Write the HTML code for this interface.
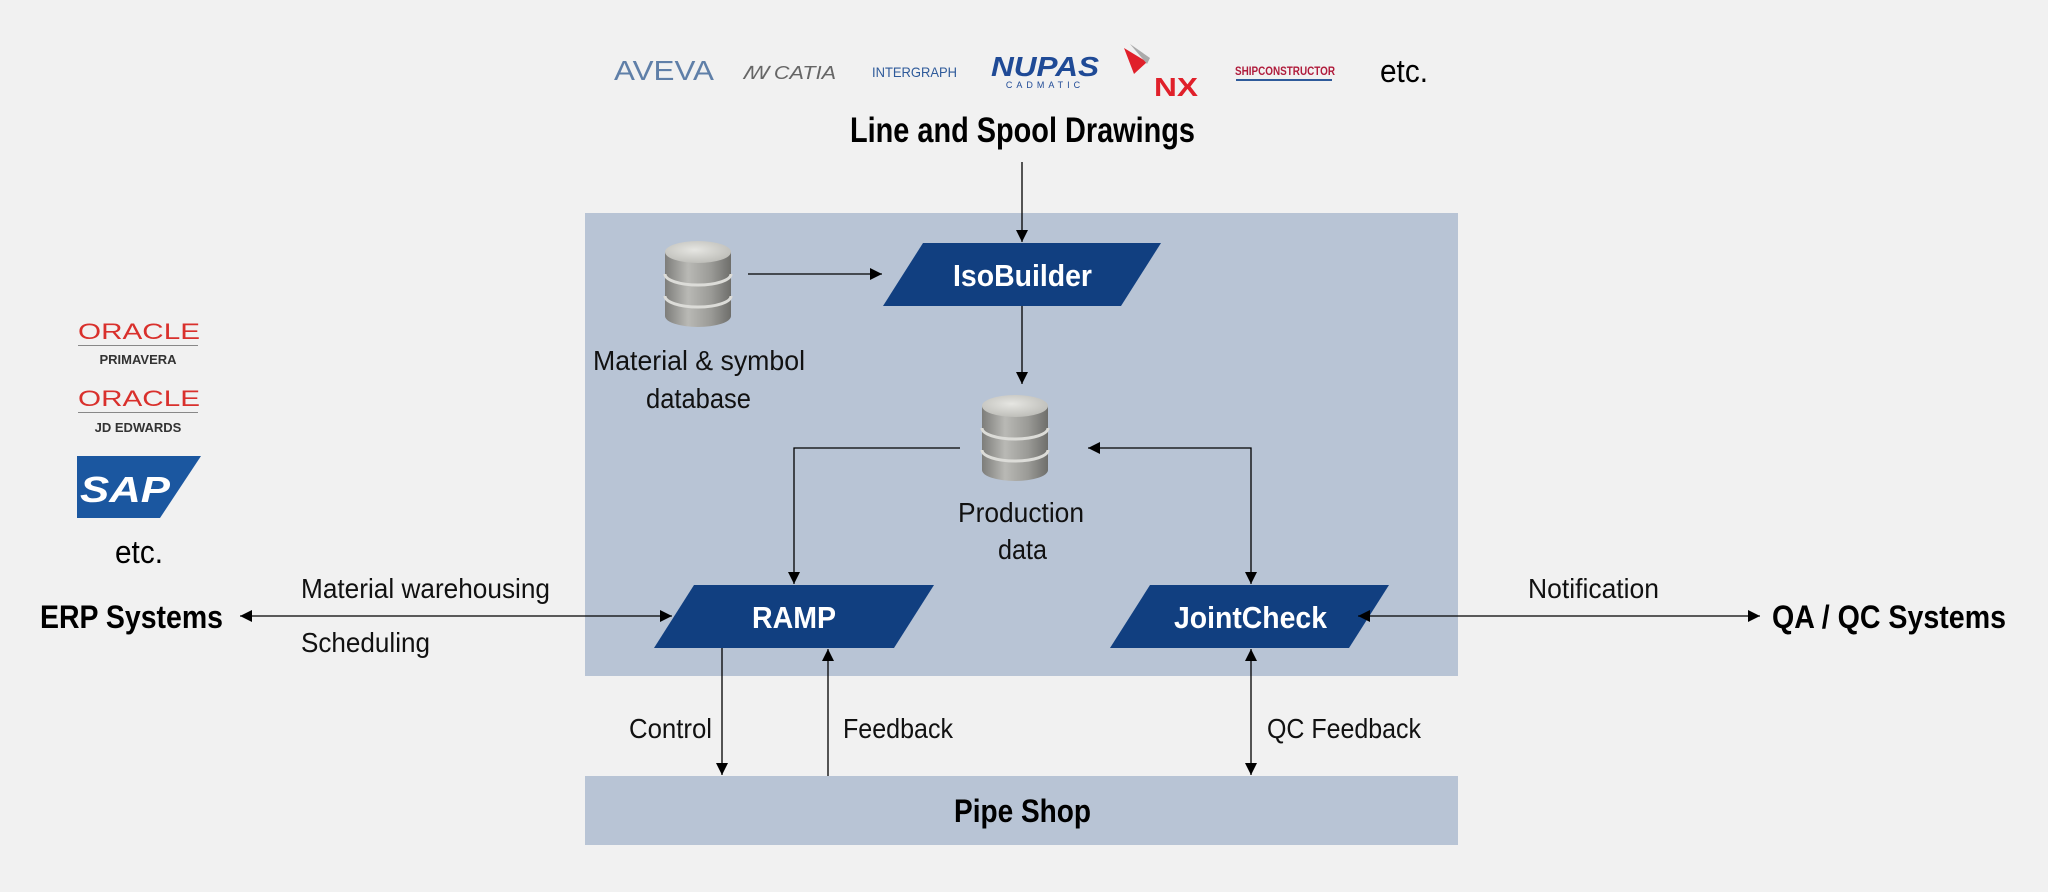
<!DOCTYPE html>
<html><head><meta charset="utf-8"><style>
html,body{margin:0;padding:0;background:#f1f1f1;}
svg{display:block;}
text{font-family:"Liberation Sans Narrow","Liberation Sans",sans-serif;}
</style></head><body>
<svg width="2048" height="892" viewBox="0 0 2048 892" xmlns="http://www.w3.org/2000/svg">
<defs>
<marker id="ah" viewBox="0 0 10 10" refX="10" refY="5" markerWidth="12" markerHeight="12" markerUnits="userSpaceOnUse" orient="auto-start-reverse"><path d="M0,0 L10,5 L0,10 z" fill="#000"/></marker>
<linearGradient id="cyl" x1="0" x2="1" y1="0" y2="0"><stop offset="0" stop-color="#7d7d7a"/><stop offset="0.35" stop-color="#b9b9b5"/><stop offset="0.7" stop-color="#9a9a96"/><stop offset="1" stop-color="#6e6e6b"/></linearGradient>
<radialGradient id="top" cx="0.45" cy="0.4" r="0.7"><stop offset="0" stop-color="#e6e6e2"/><stop offset="1" stop-color="#b8b8b3"/></radialGradient>
<g id="db">
<path d="M0,10 L0,74 A33,11 0 0 0 66,74 L66,10 z" fill="url(#cyl)"/>
<path d="M0,32 A33,11 0 0 0 66,32" fill="none" stroke="#dcdcd8" stroke-width="3"/>
<path d="M0,54 A33,11 0 0 0 66,54" fill="none" stroke="#dcdcd8" stroke-width="3"/>
<ellipse cx="33" cy="10" rx="33" ry="11" fill="url(#top)"/>
</g>
</defs>
<rect width="2048" height="892" fill="#f1f1f1"/>
<rect x="585" y="213" width="873" height="463" fill="#b8c4d5"/>
<rect x="585" y="776" width="873" height="69" fill="#b8c4d5"/>
<text x="954" y="822" font-size="32" font-weight="bold" fill="#000" textLength="137" lengthAdjust="spacingAndGlyphs">Pipe Shop</text>
<!-- logos row -->
<text x="614" y="80" font-size="28" fill="#5f7fa8" textLength="100" lengthAdjust="spacingAndGlyphs">AVEVA</text>
<text x="742" y="79" font-size="18" font-style="italic" fill="#666" textLength="94" lengthAdjust="spacingAndGlyphs">ꟿ CATIA</text>
<text x="872" y="77" font-size="14" fill="#2e5a9a" textLength="85" lengthAdjust="spacingAndGlyphs">INTERGRAPH</text>
<text x="991" y="76" font-size="28" font-weight="bold" font-style="italic" fill="#1f4a96" textLength="108" lengthAdjust="spacingAndGlyphs">NUPAS</text>
<text x="1045" y="88" font-size="9" text-anchor="middle" fill="#1f4a96" letter-spacing="4">CADMATIC</text>
<path d="M1124,48 L1147,62 L1134,74 z" fill="#e0202a"/><path d="M1130,44 L1150,58 L1147,64 z" fill="#aaa"/>
<text x="1154" y="96" font-size="26" font-weight="bold" fill="#e0202a" textLength="44" lengthAdjust="spacingAndGlyphs">NX</text>
<text x="1235" y="75" font-size="12" font-weight="bold" fill="#b01c3c" textLength="100" lengthAdjust="spacingAndGlyphs">SHIPCONSTRUCTOR</text>
<rect x="1236" y="79" width="96" height="2" fill="#2e5a9a"/>
<text x="1380" y="82" font-size="32" fill="#000" textLength="48" lengthAdjust="spacingAndGlyphs">etc.</text>
<text x="850" y="142" font-size="35" font-weight="bold" fill="#000" textLength="345" lengthAdjust="spacingAndGlyphs">Line and Spool Drawings</text>
<!-- left logos -->
<text x="78" y="339" font-size="22" fill="#d9302c" textLength="122" lengthAdjust="spacingAndGlyphs">ORACLE</text>
<rect x="78" y="345" width="120" height="1" fill="#888"/>
<text x="138" y="364" font-size="13" font-weight="bold" text-anchor="middle" fill="#333">PRIMAVERA</text>
<text x="78" y="406" font-size="22" fill="#d9302c" textLength="122" lengthAdjust="spacingAndGlyphs">ORACLE</text>
<rect x="78" y="412" width="120" height="1" fill="#888"/>
<text x="138" y="432" font-size="13" font-weight="bold" text-anchor="middle" fill="#333">JD EDWARDS</text>
<path d="M77,456 L201,456 L160,518 L77,518 z" fill="#1b57a0"/>
<text x="80" y="502" font-size="36" font-weight="bold" font-style="italic" fill="#fff" textLength="90" lengthAdjust="spacingAndGlyphs">SAP</text>
<text x="115" y="563" font-size="32" fill="#000" textLength="48" lengthAdjust="spacingAndGlyphs">etc.</text>
<text x="40" y="628" font-size="32" font-weight="bold" fill="#000" textLength="183" lengthAdjust="spacingAndGlyphs">ERP Systems</text>
<text x="1772" y="628" font-size="32" font-weight="bold" fill="#000" textLength="234" lengthAdjust="spacingAndGlyphs">QA / QC Systems</text>
<!-- parallelograms -->
<path d="M923,243 L1161,243 L1121,306 L883,306 z" fill="#113f80"/>
<text x="953" y="286" font-size="31" font-weight="bold" fill="#fff" textLength="139" lengthAdjust="spacingAndGlyphs">IsoBuilder</text>
<path d="M694,585 L934,585 L894,648 L654,648 z" fill="#113f80"/>
<text x="752" y="628" font-size="31" font-weight="bold" fill="#fff" textLength="84" lengthAdjust="spacingAndGlyphs">RAMP</text>
<path d="M1150,585 L1389,585 L1349,648 L1110,648 z" fill="#113f80"/>
<text x="1174" y="628" font-size="31" font-weight="bold" fill="#fff" textLength="153" lengthAdjust="spacingAndGlyphs">JointCheck</text>
<!-- databases -->
<use href="#db" x="665" y="242"/>
<use href="#db" x="982" y="396"/>
<text x="593" y="370" font-size="28" fill="#111" textLength="212" lengthAdjust="spacingAndGlyphs">Material &amp; symbol</text>
<text x="646" y="408" font-size="28" fill="#111" textLength="105" lengthAdjust="spacingAndGlyphs">database</text>
<text x="958" y="522" font-size="28" fill="#111" textLength="126" lengthAdjust="spacingAndGlyphs">Production</text>
<text x="998" y="559" font-size="28" fill="#111" textLength="49" lengthAdjust="spacingAndGlyphs">data</text>
<!-- connectors -->
<g stroke="#000" stroke-width="1.3" fill="none">
<line x1="1022" y1="162" x2="1022" y2="242" marker-end="url(#ah)"/>
<line x1="748" y1="274" x2="882" y2="274" marker-end="url(#ah)"/>
<line x1="1022" y1="306" x2="1022" y2="384" marker-end="url(#ah)"/>
<polyline points="960,448 794,448 794,584" marker-end="url(#ah)"/>
<polyline points="1088,448 1251,448 1251,584" marker-start="url(#ah)" marker-end="url(#ah)"/>
<line x1="240" y1="616" x2="672" y2="616" marker-start="url(#ah)" marker-end="url(#ah)"/>
<line x1="1358" y1="616" x2="1760" y2="616" marker-start="url(#ah)" marker-end="url(#ah)"/>
<line x1="722" y1="648" x2="722" y2="775" marker-end="url(#ah)"/>
<line x1="828" y1="776" x2="828" y2="649" marker-end="url(#ah)"/>
<line x1="1251" y1="649" x2="1251" y2="775" marker-start="url(#ah)" marker-end="url(#ah)"/>
</g>
<text x="301" y="598" font-size="28" fill="#111" textLength="249" lengthAdjust="spacingAndGlyphs">Material warehousing</text>
<text x="301" y="652" font-size="28" fill="#111" textLength="129" lengthAdjust="spacingAndGlyphs">Scheduling</text>
<text x="1528" y="598" font-size="28" fill="#111" textLength="131" lengthAdjust="spacingAndGlyphs">Notification</text>
<text x="629" y="738" font-size="28" fill="#111" textLength="83" lengthAdjust="spacingAndGlyphs">Control</text>
<text x="843" y="738" font-size="28" fill="#111" textLength="110" lengthAdjust="spacingAndGlyphs">Feedback</text>
<text x="1267" y="738" font-size="28" fill="#111" textLength="154" lengthAdjust="spacingAndGlyphs">QC Feedback</text>
</svg>
</body></html>
